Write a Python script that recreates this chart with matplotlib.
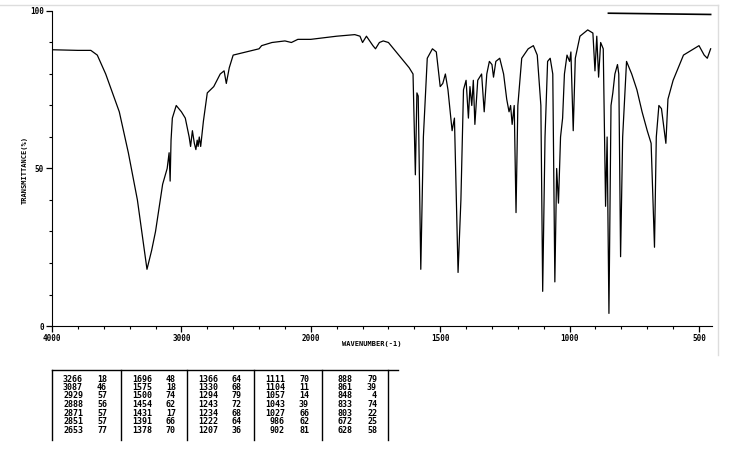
import matplotlib.pyplot as plt
import numpy as np

# spectrum trace (wavenumber cm-1, transmittance %)
wavenumber = [4000, 3900, 3800, 3700, 3650, 3585, 3480, 3410, 3340, 3290, 3266, 3230, 3200, 3145,
              3110, 3095, 3087, 3080, 3070, 3040, 3000, 2970, 2940, 2929, 2915, 2900, 2888, 2878,
              2871, 2862, 2851, 2830, 2800, 2750, 2700, 2670, 2653, 2630, 2600, 2500, 2400, 2380,
              2300, 2200, 2150, 2100, 2000, 1900, 1830, 1810, 1800, 1785, 1760, 1750, 1735, 1720,
              1700, 1680, 1650, 1620, 1605, 1596, 1590, 1585, 1575, 1565, 1550, 1530, 1515, 1500,
              1490, 1480, 1470, 1464, 1454, 1445, 1431, 1420, 1410, 1400, 1391, 1385, 1378, 1372,
              1366, 1355, 1340, 1330, 1320, 1310, 1300, 1294, 1285, 1270, 1255, 1243, 1234, 1228,
              1222, 1214, 1207, 1200, 1185, 1160, 1140, 1125, 1111, 1104, 1095, 1085, 1075, 1065,
              1057, 1050, 1043, 1035, 1027, 1020, 1010, 1000, 995, 986, 978, 960, 930, 910, 902,
              895, 888, 880, 870, 861, 855, 848, 840, 833, 825, 815, 810, 803, 795, 780, 760, 740,
              720, 700, 685, 672, 665, 655, 645, 628, 620, 600, 560, 520, 500, 480, 468, 455]
transmittance = [87.7, 87.6, 87.5, 87.5, 86, 80, 68, 55, 40, 25, 18, 24, 30, 45, 50, 55, 46, 59, 66,
                 70, 68, 66, 60, 57, 62, 58, 56, 59, 57, 60, 57, 65, 74, 76, 80, 81, 77, 82, 86, 87,
                 88, 89, 90, 90.5, 90, 91, 91, 92, 92.5, 92, 90, 92, 89, 88, 90, 90.5, 90, 88, 85,
                 82, 80, 48, 74, 73, 18, 60, 85, 88, 87, 76, 77, 80, 75, 70, 62, 66, 17, 40, 75, 78,
                 66, 76, 70, 78, 64, 78, 80, 68, 80, 84, 83, 79, 84, 85, 80, 72, 68, 70, 64, 70, 36,
                 70, 85, 88, 89, 86, 70, 11, 60, 84, 85, 80, 14, 50, 39, 60, 66, 80, 86, 84, 87, 62,
                 85, 92, 94, 93, 81, 92, 79, 90, 88, 38, 60, 4, 70, 74, 80, 83, 80, 22, 60, 84, 80,
                 75, 68, 62, 58, 25, 60, 70, 69, 58, 72, 78, 86, 88, 89, 86, 85, 88]

# peak table (wavenumber, %T), five columns of seven
peak_wn = [3266, 3087, 2929, 2888, 2871, 2851, 2653,
           1696, 1575, 1500, 1454, 1431, 1391, 1378,
           1366, 1330, 1294, 1243, 1234, 1222, 1207,
           1111, 1104, 1057, 1043, 1027, 986, 902,
           888, 861, 848, 833, 803, 672, 628]
peak_t = [18, 46, 57, 56, 57, 57, 77,
          48, 18, 74, 62, 17, 66, 70,
          64, 68, 79, 72, 68, 64, 36,
          70, 11, 14, 39, 66, 62, 81,
          79, 39, 4, 74, 22, 25, 58]

tick_values = [4000, 3000, 2000, 1500, 1000, 500]


def to_axis(wn):
    # half scale above 2000 cm-1
    wn = np.asarray(wn, dtype=float)
    return np.where(wn >= 2000, (4000 - wn) / 1000, 2 + (2000 - wn) / 500)


W, H = 736.0, 469.0
mono = "DejaVu Sans Mono"
fig = plt.figure(figsize=(7.36, 4.69), dpi=100)
fig.patch.set_facecolor("white")

# faint frame of the scanned page
fig.add_artist(plt.Line2D([0, 718 / W], [1 - 5 / H] * 2, color="#dddddd", lw=1))
fig.add_artist(plt.Line2D([718 / W] * 2, [1 - 5 / H, 1 - 355 / H], color="#dddddd", lw=1))

ax = fig.add_axes([52 / W, 1 - 326 / H, 660 / W, 315 / H])
ax.plot(to_axis(wavenumber), transmittance, color="black", lw=0.9)
ax.plot(to_axis([850, 455]), [99.3, 98.9], color="black", lw=1.2)

ax.set_xlim(0, 660 / 129.4)
ax.set_ylim(0, 100)
ax.set_xticks(to_axis(tick_values))
ax.set_xticklabels([str(v) for v in tick_values], fontsize=5.5, family=mono, fontweight="bold")
ax.set_xticks(to_axis(list(range(3800, 2000, -200)) + list(range(1900, 450, -100))), minor=True)
ax.set_yticks([0, 50, 100])
ax.set_yticklabels(["0", "50", "100"], fontsize=5.5, family=mono, fontweight="bold")
ax.set_yticks(range(10, 100, 10), minor=True)
ax.tick_params(axis="both", which="major", length=4, width=0.9, pad=2)
ax.tick_params(axis="both", which="minor", length=2, width=0.8)
for side in ["top", "right"]:
    ax.spines[side].set_visible(False)
fig.text(25 / W, 1 - 170 / H, "TRANSMITTANCE(%)", fontsize=5, family=mono, fontweight="bold",
         rotation=90, ha="center", va="center")
fig.text(372 / W, 1 - 344 / H, "WAVENUMBER(-1)", fontsize=5, family=mono, fontweight="bold",
         ha="center", va="center")

# peak table
tab_top, tab_bot = 370, 440
col_edges = [52, 121, 187, 254, 322, 388]
fig.add_artist(plt.Line2D([52 / W, 398 / W], [1 - tab_top / H] * 2, color="black", lw=1))
for xe in col_edges:
    fig.add_artist(plt.Line2D([xe / W] * 2, [1 - tab_top / H, 1 - tab_bot / H], color="black", lw=1))
for c in range(5):
    for r in range(7):
        i = c * 7 + r
        y = 1 - (379 + r * 8.5) / H
        x0 = col_edges[c] + 31
        fig.text(x0 / W, y, str(peak_wn[i]), fontsize=6, family=mono, fontweight="bold",
                 ha="right", va="center")
        fig.text((x0 + 24) / W, y, str(peak_t[i]), fontsize=6, family=mono, fontweight="bold",
                 ha="right", va="center")

fig.savefig("out.png", dpi=100)
